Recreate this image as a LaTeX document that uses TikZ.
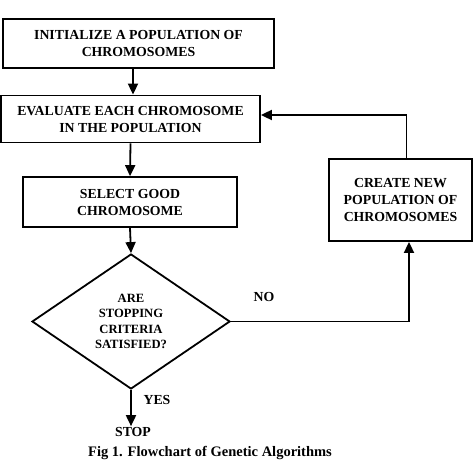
\documentclass[tikz,border=0pt]{standalone}
\usepackage{fontspec}
\setmainfont{Liberation Serif}
\usetikzlibrary{arrows.meta,shapes.geometric}
\begin{document}
\begin{tikzpicture}[x=1pt,y=-1pt,
  boxst/.style={draw,line width=1.8pt,align=center,font=\bfseries\fontsize{13.8}{17}\selectfont,inner sep=0pt},
  decst/.style={draw,diamond,line width=1.8pt,align=center,font=\bfseries\fontsize{12.6}{15.3}\selectfont,inner sep=0pt},
  lbl/.style={font=\bfseries\fontsize{13.8}{17}\selectfont,inner sep=1pt},
  arr/.style={line width=1.8pt,-{Triangle[width=10pt,length=11pt]}}]
\useasboundingbox[clip] (0,0) rectangle (474,461);
\fill[white] (0,0) rectangle (474,461);
\node[boxst,minimum width=271pt,minimum height=49pt] (init) at (138.5,43.5) {INITIALIZE A POPULATION OF\\CHROMOSOMES};
\node[boxst,minimum width=259pt,minimum height=47pt] (eval) at (130.5,119) {EVALUATE EACH CHROMOSOME\\IN THE POPULATION};
\node[boxst,minimum width=214pt,minimum height=50pt] (sel) at (130,202) {SELECT GOOD\\CHROMOSOME};
\node[boxst,minimum width=143pt,minimum height=82pt] (create) at (400.5,200) {CREATE NEW\\POPULATION OF\\CHROMOSOMES};
\node[decst,minimum width=198pt,minimum height=135pt] (dec) at (131,321.5) {ARE\\STOPPING\\CRITERIA\\SATISFIED?};
\node[lbl] (no) at (264,297) {NO};
\node[lbl] (yes) at (157,400) {YES};
\node[lbl] (stop) at (133,432) {STOP};
\node[font=\bfseries\fontsize{14.5}{17}\selectfont,inner sep=0pt,anchor=base] (cap) at (210,456.5) {Fig 1. Flowchart of Genetic Algorithms};
\draw[arr] ([xshift=-5.5pt]init.south) -- ([xshift=2.5pt]eval.north);
\draw[arr] (eval.south) -- (sel.north);
\draw[arr] (sel.south) -- (dec.north);
\draw[arr] ([xshift=6pt]create.north) |- ([yshift=4pt]eval.east);
\draw[arr] (dec.east) -| ([xshift=8.5pt]create.south);
\draw[arr] (dec.south) -- (dec.south |- stop.north);
\end{tikzpicture}
\end{document}
